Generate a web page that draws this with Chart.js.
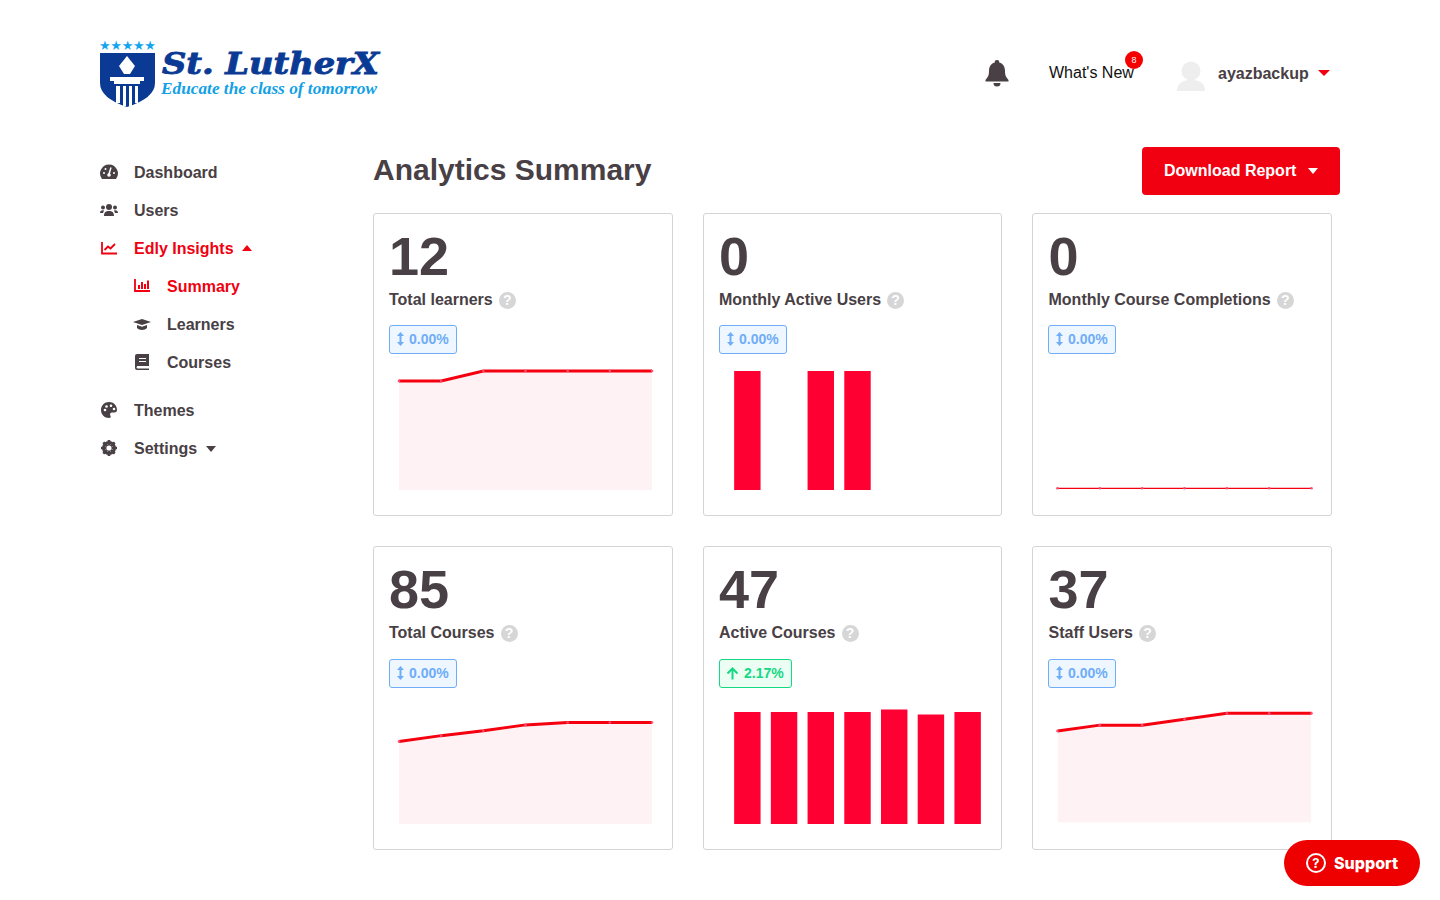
<!DOCTYPE html>
<html>
<head>
<meta charset="utf-8">
<title>Analytics Summary</title>
<script src="https://cdn.jsdelivr.net/npm/chart.js@4"></script>
<style>
  html, body { margin: 0; padding: 0; background: #fff; }
  body { width: 1440px; height: 900px; position: relative; overflow: hidden; font-family: "Liberation Sans", sans-serif; color: #484044; }
  .abs { position: absolute; white-space: nowrap; }
  .nav { position: absolute; font-size: 16px; font-weight: 700; line-height: 20px; white-space: nowrap; }
  .red { color: #f00010; }
  .card { position: absolute; box-sizing: border-box; border: 1px solid #d4d4d4; border-radius: 3px; background: #fff; }
  .num { position: absolute; left: 15px; top: 12px; font-size: 54px; font-weight: 700; line-height: 60px; }
  .lbl { position: absolute; left: 15px; top: 76px; font-size: 16px; font-weight: 700; line-height: 20px; white-space: nowrap; }
  .help { display: inline-block; width: 17px; height: 17px; border-radius: 50%; background: #d6d6d6; color: #fff; font-size: 14px; font-weight: 700; line-height: 17px; text-align: center; margin-left: 6px; vertical-align: 0; }
  .badge { position: absolute; left: 15px; height: 27px; padding: 0 7px 0 6px; border-radius: 3px; font-size: 14px; font-weight: 700; line-height: 27px; white-space: nowrap; }
  .flat { border: 1px solid #6fadf8; background: #eef6ff; color: #6fadf8; }
  .up { border: 1px solid #14d983; background: #ecfdf4; color: #14d983; }
  .badge svg { vertical-align: -2px; margin-right: 4px; }
  .up svg { margin-right: 5px; }
  .plot { position: absolute; left: 15px; top: 146px; width: 277px; height: 140px; }
  #download { position: absolute; left: 1142px; top: 147px; width: 198px; height: 48px; border-radius: 4px; background: #f00010; color: #fff; font-size: 16px; font-weight: 700; line-height: 48px; }
  #support { position: absolute; left: 1284px; top: 840px; width: 136px; height: 46px; border-radius: 23px; background: #ee0000; color: #fff; font-family: Inter, sans-serif; font-size: 16px; font-weight: 800; line-height: 46px; }
</style>
</head>
<body>

<!-- logo -->
<svg class="abs" style="left:96px;top:36px" width="290" height="74">
  <text x="3" y="14" font-family="DejaVu Sans" font-size="13" fill="#12a5ee" textLength="57">★★★★★</text>
  <path d="M4 17 H59 V47 Q59 62 31 71 Q4 62 4 47 Z" fill="#0b3a94"/>
  <path d="M31 20 L39 30 L34 38 H28 L23 30 Z" fill="#fff"/>
  <path d="M14 41 H48 V45 H44 V48 H18 V45 H14 Z M20 50 H24 V67 H20 Z M27 50 H30 V70 H27 Z M33 50 H36 V70 H33 Z M39 50 H42 V67 H39 Z" fill="#fff"/>
  <text x="66" y="38" font-family="DejaVu Serif" font-weight="700" font-style="italic" font-size="30" fill="#0b3a94" stroke="#0b3a94" stroke-width="0.900" textLength="217" lengthAdjust="spacingAndGlyphs">St. LutherX</text>
  <text x="65" y="58" font-family="Liberation Serif" font-weight="700" font-style="italic" font-size="16.5" fill="#12a0e6" textLength="216" lengthAdjust="spacingAndGlyphs">Educate the class of tomorrow</text>
</svg>

<!-- top bar -->
<svg class="abs" style="left:985px;top:59px" width="24" height="28" viewBox="0 0 24 28">
  <path d="M12 1 a2.2 2.2 0 0 1 2.2 2.4 C18.5 4.6 20 8 20 12 c0 5 1.500 6.500 3.500 9 v1.500 H0.500 V21 C2.500 18.500 4 17 4 12 c0-4 1.500-7.400 5.800-8.600 A2.200 2.200 0 0 1 12 1 Z M8.500 24 h7 a3.500 3.500 0 0 1-7 0 Z" fill="#484044"/>
</svg>
<div class="abs" style="left:1049px;top:63px;font-size:16px;line-height:20px;color:#111">What's New</div>
<div class="abs" style="left:1125px;top:51px;width:18px;height:18px;border-radius:50%;background:#f50000;color:#fff;font-size:9px;line-height:18px;text-align:center">8</div>
<svg class="abs" style="left:1176px;top:60px" width="30" height="31">
  <circle cx="15" cy="11" r="9.500" fill="#eeeeee"/>
  <path d="M1 31 C1 22 8 20 15 20 C22 20 29 22 29 31 Z" fill="#eeeeee"/>
</svg>
<div class="abs" style="left:1218px;top:63.500px;font-size:16px;font-weight:700;line-height:20px">ayazbackup</div>
<svg class="abs" style="left:1318px;top:70px" width="12" height="7"><path d="M0 0 H12 L6 6 Z" fill="#f00010"/></svg>

<!-- sidebar -->
<svg class="abs" style="left:100px;top:164px" width="18" height="16" viewBox="0 0 18 16">
  <path d="M9 0.500 A9 9 0 0 0 2 15 H16 A9 9 0 0 0 9 0.500 Z" fill="#484044"/>
  <path d="M9 10 L11 3.500" stroke="#fff" stroke-width="1.500"/><circle cx="9" cy="11" r="1.800" fill="#fff"/>
  <circle cx="4" cy="9" r="1" fill="#fff"/><circle cx="14" cy="9" r="1" fill="#fff"/><circle cx="5.500" cy="5" r="1" fill="#fff"/>
</svg>
<div class="nav" style="left:134px;top:163px">Dashboard</div>
<svg class="abs" style="left:100px;top:203px" width="18" height="14" viewBox="0 0 18 14">
  <circle cx="9" cy="4" r="3" fill="#484044"/><circle cx="3" cy="4.500" r="2" fill="#484044"/><circle cx="15" cy="4.500" r="2" fill="#484044"/>
  <path d="M4 13 C4 9 6 8 9 8 C12 8 14 9 14 13 Z M0 10 C0 8 1.500 7 4 7.500 L3 10 Z M18 10 C18 8 16.500 7 14 7.500 L15 10 Z" fill="#484044"/>
</svg>
<div class="nav" style="left:134px;top:201px">Users</div>
<svg class="abs" style="left:101px;top:241px" width="16" height="14" viewBox="0 0 16 14">
  <path d="M1 1 V12.500 H16" stroke="#f00010" stroke-width="1.800" fill="none"/>
  <path d="M3.500 9 L7 5.500 L9.500 7.500 L14 3" stroke="#f00010" stroke-width="1.800" fill="none"/>
</svg>
<div class="nav red" style="left:134px;top:239px">Edly Insights</div>
<svg class="abs" style="left:242px;top:245px" width="10" height="6"><path d="M0 6 H10 L5 0 Z" fill="#f00010"/></svg>
<svg class="abs" style="left:134px;top:279px" width="16" height="13" viewBox="0 0 16 13">
  <path d="M1 0 V12 H16" stroke="#f00010" stroke-width="1.800" fill="none"/>
  <path d="M4 6 H6 V10 H4 Z M7 3 H9 V10 H7 Z M10 5 H12 V10 H10 Z M13 1.500 H15 V10 H13 Z" fill="#f00010"/>
</svg>
<div class="nav red" style="left:167px;top:277px">Summary</div>
<svg class="abs" style="left:133px;top:318px" width="18" height="13" viewBox="0 0 18 13">
  <path d="M9 1 L18 4 L9 7 L0 4 Z M4 7 L9 8.800 L14 7 V10 C12 12.500 6 12.500 4 10 Z" fill="#484044"/>
</svg>
<div class="nav" style="left:167px;top:315px">Learners</div>
<svg class="abs" style="left:135px;top:354px" width="14" height="16" viewBox="0 0 14 16">
  <path d="M2 0 H14 V12 H2.500 A1.300 1.300 0 0 0 2.500 14.500 H14 V16 H2 A2 2 0 0 1 0 14 V2 A2 2 0 0 1 2 0 Z" fill="#484044"/>
  <path d="M4 4 H11 V5 H4 Z M4 7 H11 V8 H4 Z" fill="#fff"/>
</svg>
<div class="nav" style="left:167px;top:353px">Courses</div>
<svg class="abs" style="left:101px;top:402px" width="16" height="16" viewBox="0 0 16 16">
  <path d="M8 0 C3.500 0 0 3.500 0 8 C0 12.500 3.500 16 8 16 C10 16 10 14.500 9.300 13.500 C8.500 12 9.500 10.500 11 10.500 H13.500 C15 10.500 16 9.300 16 8 C16 3.500 12.500 0 8 0 Z" fill="#484044"/>
  <circle cx="4" cy="8" r="1.300" fill="#fff"/><circle cx="5.500" cy="4.500" r="1.300" fill="#fff"/><circle cx="10" cy="3.800" r="1.300" fill="#fff"/><circle cx="13" cy="7" r="1.300" fill="#fff"/>
</svg>
<div class="nav" style="left:134px;top:401px">Themes</div>
<svg class="abs" style="left:101px;top:440px" width="16" height="16" viewBox="0 0 16 16">
  <circle cx="8" cy="8" r="5.500" fill="none" stroke="#484044" stroke-width="3"/>
  <path d="M8 0 V16 M0 8 H16 M2.300 2.300 L13.700 13.700 M13.700 2.300 L2.300 13.700" stroke="#484044" stroke-width="2.600"/>
  <circle cx="8" cy="8" r="2.600" fill="#fff"/>
</svg>
<div class="nav" style="left:134px;top:439px">Settings</div>
<svg class="abs" style="left:206px;top:446px" width="10" height="6"><path d="M0 0 H10 L5 6 Z" fill="#484044"/></svg>

<!-- heading -->
<div class="abs" style="left:373px;top:150px;font-size:30px;font-weight:700;line-height:40px">Analytics Summary</div>
<div id="download"><span class="abs" style="left:22px">Download Report</span>
  <svg class="abs" style="left:166px;top:21px" width="10" height="6"><path d="M0 0 H10 L5 6 Z" fill="#fff"/></svg>
</div>

<div id="cards"></div>

<div id="support">
  <svg class="abs" style="left:21px;top:12px" width="22" height="22" viewBox="0 0 22 22"><circle cx="11" cy="11" r="9" fill="none" stroke="#fff" stroke-width="2"/><text x="11" y="15.500" font-size="13" font-weight="700" fill="#fff" text-anchor="middle">?</text></svg>
  <span class="abs" style="left:50px">Support</span>
</div>

<script>
const days = ['Mon', 'Tue', 'Wed', 'Thu', 'Fri', 'Sat', 'Sun'];

const titles = ['Total learners', 'Monthly Active Users', 'Monthly Course Completions', 'Total Courses', 'Active Courses', 'Staff Users'];
const totals = ['12', '0', '0', '85', '47', '37'];
const changes = ['0.00%', '0.00%', '0.00%', '0.00%', '2.17%', '0.00%'];

const totalLearners = [11, 11, 12, 12, 12, 12, 12];
const monthlyActive = [1, 0, 1, 1, 0, 0, 0];
const monthlyCompletions = [0, 0, 0, 0, 0, 0, 0];
const totalCourses = [69, 74, 78, 83, 85, 85, 85];
const activeCourses = [45, 45, 45, 45, 46, 44, 45];
const staffUsers = [31, 33, 33, 35, 37, 37, 37];

const series = [totalLearners, monthlyActive, monthlyCompletions, totalCourses, activeCourses, staffUsers];
const chartTypes = ['line', 'bar', 'line', 'line', 'bar', 'line'];
const yMax = [12, 1, 1, 85, 46, 37];

// card placement and plot padding
const cardLeft = [373, 703, 1032, 373, 703, 1032];
const cardTop = [213, 213, 213, 546, 546, 546];
const cardWidth = [300, 299, 300, 300, 299, 300];
const cardHeight = [303, 303, 303, 304, 304, 304];
const badgeTop = [111, 111, 111, 112, 112, 112];
const textLeft = [15, 15, 15.5, 15, 15, 15.5];
const padLeft = [10, 10, 9.5, 10, 10, 9.5];
const padRight = [14, 10, 13.5, 14, 10, 13.5];
const padTop = [11, 11, 11, 29.5, 16.5, 20.3];
const padBottom = [10, 10, 11.7, 9, 9, 10.3];

const flatIcon = '<svg width="9" height="14" viewBox="0 0 9 14"><path d="M4.500 0 L8 4 H5.500 V10 H8 L4.500 14 L1 10 H3.500 V4 H1 Z" fill="currentColor"/></svg>';
const upIcon = '<svg width="13" height="13" viewBox="0 0 13 13"><path d="M6.500 12.500 V2 M1.500 6.500 L6.500 1.500 L11.500 6.500" stroke="currentColor" stroke-width="2" fill="none"/></svg>';

const holder = document.getElementById('cards');

titles.forEach(function (title, i) {
  const isUp = changes[i] !== '0.00%';
  const card = document.createElement('div');
  card.className = 'card';
  card.style.left = cardLeft[i] + 'px';
  card.style.top = cardTop[i] + 'px';
  card.style.width = cardWidth[i] + 'px';
  card.style.height = cardHeight[i] + 'px';
  card.innerHTML =
    '<div class="num" style="left:' + textLeft[i] + 'px">' + totals[i] + '</div>' +
    '<div class="lbl" style="left:' + textLeft[i] + 'px">' + title + '<span class="help">?</span></div>' +
    '<div class="badge ' + (isUp ? 'up' : 'flat') + '" style="top:' + badgeTop[i] + 'px">' + (isUp ? upIcon : flatIcon) + changes[i] + '</div>' +
    '<div class="plot"><canvas width="277" height="140"></canvas></div>';
  holder.appendChild(card);

  const isBar = chartTypes[i] === 'bar';
  new Chart(card.querySelector('canvas'), {
    type: chartTypes[i],
    data: {
      labels: days,
      datasets: [{
        data: series[i],
        borderColor: '#f5000f',
        borderWidth: isBar ? 0 : (i === 2 ? 1.3 : 3),
        backgroundColor: isBar ? '#ff0033' : 'rgba(255, 0, 51, 0.05)',
        fill: !isBar,
        tension: 0,
        pointRadius: 1.3,
        pointBackgroundColor: '#ff4d73',
        pointBorderWidth: 0,
        clip: 3,
      }],
    },
    options: {
      responsive: false,
      animation: false,
      layout: { padding: { left: padLeft[i], right: padRight[i], top: padTop[i], bottom: padBottom[i] } },
      plugins: { legend: { display: false }, tooltip: { enabled: false } },
      scales: {
        x: { display: false },
        y: { display: false, min: 0, max: yMax[i] },
      },
    },
  });
});
</script>
</body>
</html>
